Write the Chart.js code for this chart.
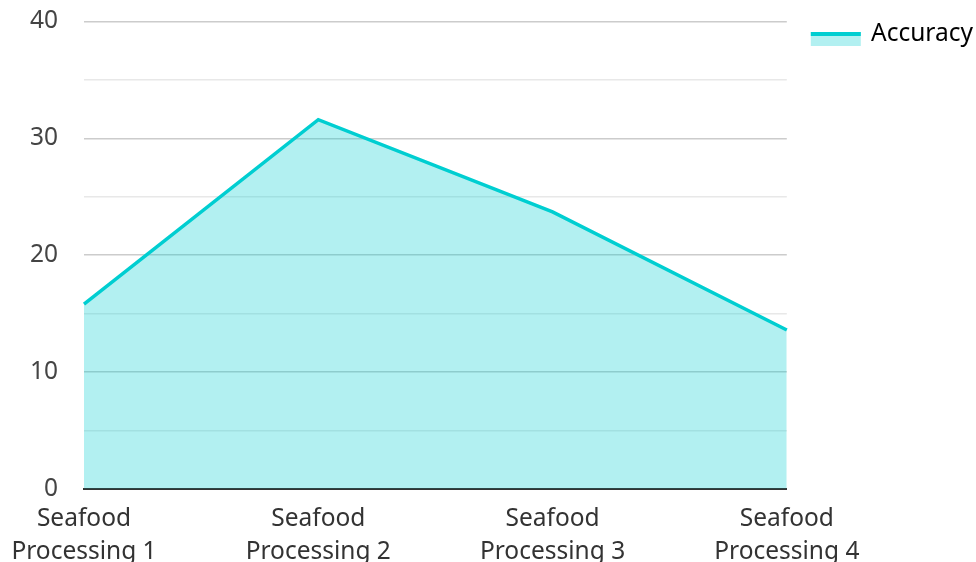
<!DOCTYPE html>
<html>
<head>
<meta charset="utf-8">
<script src="https://cdn.jsdelivr.net/npm/chart.js@4"></script>
<style>
  html, body { margin: 0; padding: 0; background: #fff; overflow: hidden; }
  #wrap { width: 976px; height: 575px; position: relative; }
</style>
</head>
<body>
<div id="wrap"><canvas id="myChart"></canvas></div>
<script>
const categories = [
  ["Seafood", "Processing 1"],
  ["Seafood", "Processing 2"],
  ["Seafood", "Processing 3"],
  ["Seafood", "Processing 4"]
];
const accuracy = [15.8, 31.6, 23.7, 13.6];
const yTicks = [0, 10, 20, 30, 40];

const lineColor = "#00CED1";
const fillColor = "rgba(0, 206, 209, 0.3)";

const ctx = document.getElementById("myChart").getContext("2d");

Chart.defaults.font.family = "'Noto Sans', sans-serif";
Chart.defaults.font.size = 24.5;
Chart.defaults.color = "#444";

// legend box drawn by hand: a line on top, the fill below it
const legendBox = {
  id: "legendBox",
  afterDraw(chart) {
    const lg = chart.legend;
    if (!lg || !lg.legendHitBoxes) return;
    const c = chart.ctx;
    lg.legendHitBoxes.forEach((hb) => {
      const top = hb.top + 10;
      const left = hb.left + 2;
      c.save();
      c.fillStyle = fillColor;
      c.fillRect(left, top, 50, 14);
      c.fillStyle = lineColor;
      c.fillRect(left, top, 50, 4);
      c.restore();
    });
  }
};

const myChart = new Chart(ctx, {
  type: "line",
  data: {
    labels: categories,
    datasets: [
      {
        label: "Accuracy",
        data: accuracy,
        borderColor: lineColor,
        backgroundColor: fillColor,
        borderWidth: 3.5,
        fill: "origin",
        pointRadius: 0,
        tension: 0
      }
    ]
  },
  options: {
    responsive: true,
    maintainAspectRatio: false,
    animation: false,
    layout: { padding: { left: 0, right: -7, top: 0, bottom: 0 } },
    plugins: {
      tooltip: { enabled: false },
      legend: {
        position: "right",
        align: "start",
        labels: {
          color: "#333",
          boxWidth: 50,
          boxHeight: 14,
          padding: 22,
          generateLabels(chart) {
            const ds = chart.data.datasets[0];
            return [{
              text: ds.label,
              fillStyle: "rgba(0,0,0,0)",
              strokeStyle: "rgba(0,0,0,0)",
              lineWidth: 0,
              datasetIndex: 0
            }];
          }
        }
      }
    },
    scales: {
      x: {
        offset: false,
        grid: { display: false },
        border: { display: true, color: "#333", width: 2 },
        ticks: { color: "#333", maxRotation: 0, padding: 6, font: { lineHeight: 1.35 } }
      },
      y: {
        min: 0,
        max: 40,
        border: { display: false },
        grid: {
          drawTicks: false,
          color: (c) => (c.tick && c.tick.value % 10 === 0 ? "#cccccc" : "#e8e8e8"),
          lineWidth: 1.5
        },
        afterFit(scale) {
          scale.width = 84;
          scale.paddingTop = 21.5;
          scale.paddingBottom = 0;
        },
        afterBuildTicks(scale) {
          const t = [];
          for (let v = 0; v <= 40; v += 5) t.push({ value: v });
          scale.ticks = t;
        },
        ticks: {
          padding: 26,
          callback: (v) => (yTicks.includes(v) ? v : "")
        }
      }
    }
  },
  plugins: [legendBox]
});
</script>
</body>
</html>
